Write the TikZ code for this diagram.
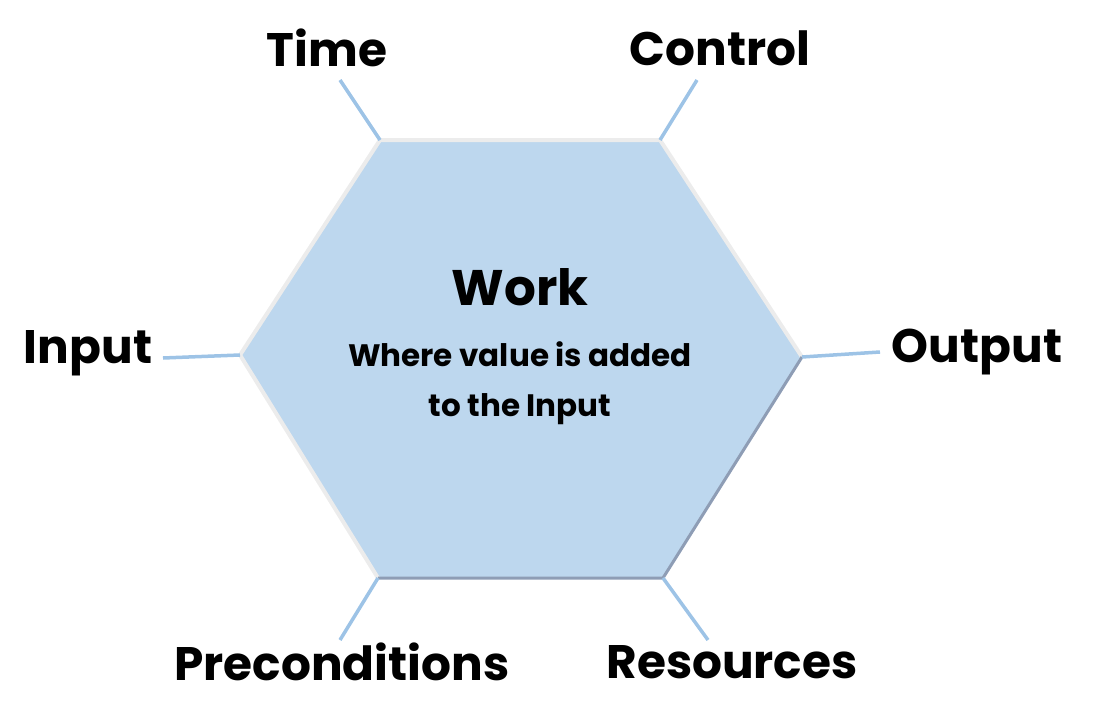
\documentclass[tikz,border=0pt]{standalone}
\usepackage{fontspec}
\setmainfont{Poppins}
\begin{document}
\begin{tikzpicture}[x=1pt,y=-1pt,
  lbl/.style={font=\fontsize{47}{50}\selectfont\bfseries,inner sep=0pt}]
\useasboundingbox (0,0) rectangle (1106,720);
\definecolor{hexfill}{HTML}{BDD7EE}
\definecolor{linec}{HTML}{9DC3E6}
\definecolor{shade}{HTML}{8E9DB5}
\coordinate (tl) at (380,140); \coordinate (tr) at (660,140);
\coordinate (r) at (802,357); \coordinate (br) at (663,578);
\coordinate (bl) at (378,578); \coordinate (l) at (240,355);
\fill[hexfill] (tl)--(tr)--(r)--(br)--(bl)--(l)--cycle;
\draw[line width=4pt,color=gray!15] (bl)--(l)--(tl)--(tr)--(r);
\draw[line width=3pt,color=shade] (r)--(br)--(bl);
\node[lbl] (time) at (327,48) {Time};
\node[lbl] (control) at (720,48) {Control};
\node[lbl] (input) at (88,353) {Input};
\node[lbl] (output) at (977,352) {Output};
\node[lbl] (pre) at (342,662) {Preconditions};
\node[lbl] (res) at (732,662) {Resources};
\node[inner sep=0pt,font=\fontsize{50}{54}\selectfont\bfseries] (work) at (520,287) {Work};
\node[inner sep=0pt,font=\fontsize{31}{50}\selectfont\bfseries,align=center] (desc) at (520,383) {Where value is added\\to the Input};
\draw[linec,line width=3.5pt] (340,80)--(tl);
\draw[linec,line width=3.5pt] (697,80)--(tr);
\draw[linec,line width=3.5pt] (163,358)--(l);
\draw[linec,line width=3.5pt] (r)--(880,352);
\draw[linec,line width=3.5pt] (340,640)--(bl);
\draw[linec,line width=3.5pt] (br)--(708,640);
\end{tikzpicture}
\end{document}
